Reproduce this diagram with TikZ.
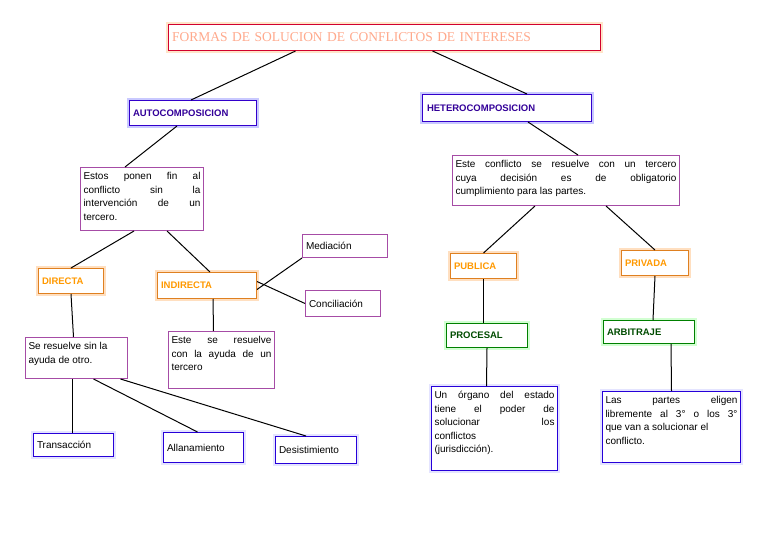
\documentclass[tikz,border=0pt]{standalone}
\usepackage{fontspec}
\setmainfont{Liberation Sans}
\newfontfamily\serifttl{Liberation Serif}
\newcommand{\tb}[3]{\parbox[t][#2pt][t]{#1pt}{\hyphenpenalty=10000\exhyphenpenalty=10000\rule{0pt}{9pt}#3}}
\begin{document}
\begin{tikzpicture}[x=1pt,y=-1pt,
 bx/.style={draw=#1!70!black,line width=1pt,fill=white,inner sep=3pt,font=\fontsize{10}{13.5}\selectfont,anchor=north west},
 gl/.style={preaction={draw=#1,line width=5pt,opacity=0.35}},
 cb/.style={bx=blue,draw=blue!60!violet,gl=blue!60,text=blue!50!violet!80!black,font=\fontsize{9.5}{11}\selectfont\bfseries},
 ob/.style={bx=orange,draw=orange!50!brown,gl=orange!70,text=orange!80!yellow,font=\fontsize{9.5}{11}\selectfont\bfseries},
 gb/.style={bx=green,draw=green!50!black,gl=green!50,text=green!30!black,font=\fontsize{9.5}{11}\selectfont\bfseries},
 pb/.style={bx=violet,draw=violet!70},
 lb/.style={bx=blue,draw=blue!70!violet,gl=blue!30},
 ln/.style={line width=1pt}]
\useasboundingbox (0,0) rectangle (768,543);
\fill[white] (0,0) rectangle (768,543);
\node[bx=red,draw=purple!70!red,gl=orange!60,text=orange!50!red!45,font=\serifttl\fontsize{13.5}{14}\selectfont,minimum width=432,minimum height=26,text width=425,align=left] (t) at (168,24) {FORMAS DE SOLUCION DE CONFLICTOS DE INTERESES};
\node[cb,minimum width=127,minimum height=25,text width=120] (auto) at (129,100) {AUTOCOMPOSICION};
\node[cb,minimum width=169,minimum height=27,text width=160,anchor=north west] (het) at (422,94) {HETEROCOMPOSICION};
\node[pb] (est) at (80,167) {\tb{117}{57}{Estos ponen fin al\linebreak conflicto sin la\linebreak intervención de un\linebreak tercero.}};
\node[pb] (ec) at (452,155) {\tb{221}{44}{Este conflicto se resuelve con un tercero\linebreak cuya decisión es de obligatorio\linebreak cumplimiento para las partes.}};
\node[ob,minimum width=65,minimum height=25,text width=58] (dir) at (38,268) {DIRECTA};
\node[ob,minimum width=99,minimum height=26,text width=92] (ind) at (157,272) {INDIRECTA};
\node[pb,minimum width=85,minimum height=23,text width=78] (med) at (302,234) {Mediación};
\node[pb,minimum width=75,minimum height=26,text width=68] (con) at (305,290) {Conciliación};
\node[pb] (sr) at (25,337) {\tb{96}{35}{\raggedright Se resuelve sin la\\ ayuda de otro.}};
\node[pb] (esr) at (168,331) {\tb{100}{51}{Este se resuelve\linebreak con la ayuda de un\linebreak tercero}};
\node[lb,minimum width=80,minimum height=23,text width=73] (tr) at (33,433) {Transacción};
\node[lb,minimum width=80,minimum height=30,text width=73] (al) at (163,432) {Allanamiento};
\node[lb,minimum width=81,minimum height=27,text width=74] (de) at (275,436) {Desistimiento};
\node[ob,minimum width=66,minimum height=25,text width=59] (pu) at (450,253) {PUBLICA};
\node[ob,minimum width=67,minimum height=25,text width=60] (pr) at (621,250) {PRIVADA};
\node[gb,minimum width=81,minimum height=24,text width=74] (pc) at (446,323) {PROCESAL};
\node[gb,minimum width=91,minimum height=23,text width=84] (ar) at (603,320) {ARBITRAJE};
\node[lb] (uo) at (431,386) {\tb{120}{78}{Un órgano del estado\linebreak tiene el poder de\linebreak solucionar los\linebreak conflictos\\ (jurisdicción).}};
\node[lb] (lp) at (602,391) {\tb{132}{65}{Las partes eligen\linebreak libremente al 3° o los 3°\linebreak que van a solucionar el\\ conflicto.}};
\draw[ln] ([xshift=-89]t.south) -- ([xshift=-2]auto.north);
\draw[ln] ([xshift=48]t.south) -- ([xshift=20]het.north);
\draw[ln] ([xshift=-16]auto.south) -- ([xshift=-17]est.north);
\draw[ln] ([xshift=21]het.south) -- ([xshift=12]ec.north);
\draw[ln] ([xshift=-8]est.south) -- (dir.north);
\draw[ln] ([xshift=25]est.south) -- ([xshift=3]ind.north);
\draw[ln] ([yshift=-4]ind.east) -- (med.south west);
\draw[ln] ([yshift=4]ind.east) -- (con.west);
\draw[ln] (dir.south) -- ([xshift=-3]sr.north);
\draw[ln] ([xshift=6]ind.south) -- ([xshift=-8]esr.north);
\draw[ln] ([xshift=-4]sr.south) -- ([xshift=-1]tr.north);
\draw[ln] ([xshift=17]sr.south) -- ([xshift=-6]al.north);
\draw[ln] ([xshift=44]sr.south) -- ([xshift=-10]de.north);
\draw[ln] ([xshift=-31]ec.south) -- (pu.north);
\draw[ln] ([xshift=40]ec.south) -- (pr.north);
\draw[ln] (pu.south) -- ([xshift=-3.5]pc.north);
\draw[ln] (pr.south) -- ([xshift=4]ar.north);
\draw[ln] (pc.south) -- ([xshift=-8]uo.north);
\draw[ln] ([xshift=22]ar.south) -- (lp.north);
\end{tikzpicture}
\end{document}
